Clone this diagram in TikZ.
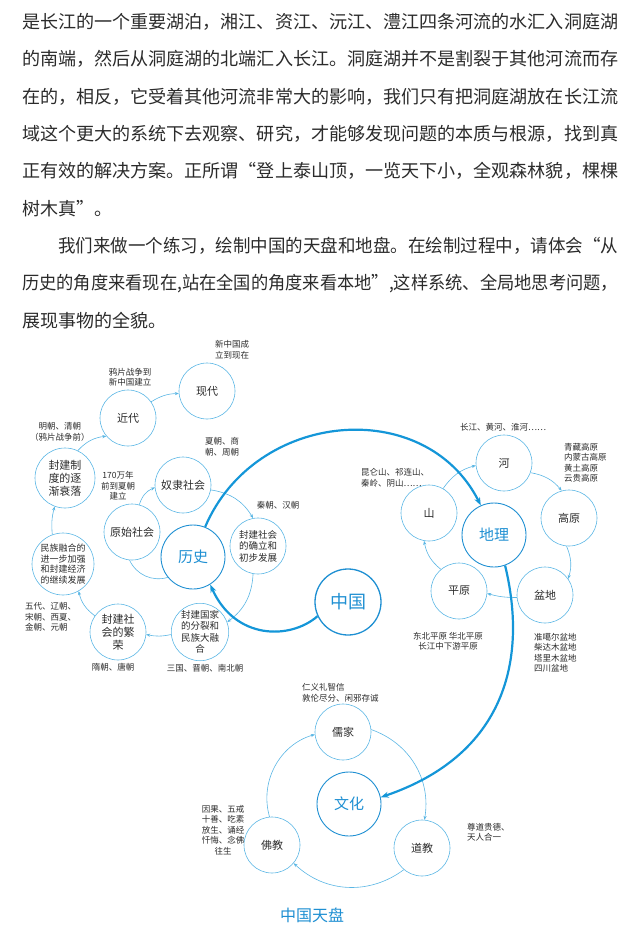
\documentclass[tikz,border=0pt]{standalone}
\usepackage{fontspec}
\setmainfont{Noto Sans CJK SC}
\usepackage{graphicx}
\usepackage{xcolor}
\definecolor{tpRing}{HTML}{5AB6E4}
\definecolor{tpSpiral}{HTML}{1496D8}
\definecolor{tpHub}{HTML}{1E8FD2}
\definecolor{tpText}{HTML}{2B2B2B}
\usepackage{tikz}
\usetikzlibrary{positioning,arrows.meta}

\begin{document}
\begin{tikzpicture}[x=1pt,y=1pt,
      every node/.style={font=\fontsize{11}{13}\selectfont,text=tpText},
      para/.style={anchor=west,inner sep=0pt,font=\fontsize{18}{18}\selectfont},
      stage/.style={circle,draw=tpRing,line width=0.6pt,minimum size=56pt,
                    inner sep=0pt,align=center},
      dense/.style={font=\fontsize{9.5}{11.5}\selectfont},
      hub/.style={circle,draw=tpHub,line width=0.9pt,minimum size=64pt,
                  inner sep=0pt,text=tpHub,font=\fontsize{15}{15}\selectfont},
      note/.style={align=center,inner sep=0pt,font=\fontsize{8.5}{10.5}\selectfont},
      arr/.style={-{Stealth[length=4pt,width=3.2pt]},tpRing,line width=0.6pt},
      spiral/.style={-{Stealth[length=8pt,width=6pt]},tpSpiral,line width=2.2pt},
    ]
    \useasboundingbox (0,0) rectangle (640,-943);

    % Text above the chart
    \node[para] (l1) at (22,-22) {\resizebox{596pt}{\height}{是长江的一个重要湖泊，湘江、资江、沅江、澧江四条河流的水汇入洞庭湖}};
    \node[para] (l2) at (22,-59) {\resizebox{596pt}{\height}{的南端，然后从洞庭湖的北端汇入长江。洞庭湖并不是割裂于其他河流而存}};
    \node[para] (l3) at (22,-97) {\resizebox{596pt}{\height}{在的，相反，它受着其他河流非常大的影响，我们只有把洞庭湖放在长江流}};
    \node[para] (l4) at (22,-134) {\resizebox{596pt}{\height}{域这个更大的系统下去观察、研究，才能够发现问题的本质与根源，找到真}};
    \node[para] (l5) at (22,-171) {\resizebox{596pt}{\height}{正有效的解决方案。正所谓“登上泰山顶，一览天下小，全观森林貌，棵棵}};
    \node[para] (l6) at (22,-209) {树木真”。};
    \node[para] (l7) at (58,-246) {\resizebox{560pt}{\height}{我们来做一个练习，绘制中国的天盘和地盘。在绘制过程中，请体会“从}};
    \node[para] (l8) at (22,-284) {\resizebox{596pt}{\height}{历史的角度来看现在,站在全国的角度来看本地”,这样系统、全局地思考问题，}};
    \node[para] (l9) at (22,-321) {展现事物的全貌。};

    % The four hubs
    \node[hub,minimum size=66pt,line width=1.3pt,font=\fontsize{18}{18}\selectfont] (china) at (348,-602) {中国};
    \node[hub] (hist) at (193,-557) {历史};
    \node[hub] (geo) at (494,-535) {地理};
    \node[hub] (cult) at (349,-804) {文化};

    % History ring
    \node[stage] (primitive) at (132,-532) {原始社会};
    \node[stage] (slave) at (183,-485) {奴隶社会};
    \node[stage,dense] (establish) at (258,-546) {封建社会\\的确立和\\初步发展};
    \node[stage,dense] (split) at (200,-632) {封建国家\\的分裂和\\民族大融\\合};
    \node[stage] (prosper) at (118,-632) {封建社\\会的繁\\荣};
    \node[stage,minimum size=62pt,font=\fontsize{9}{10.5}\selectfont] (fusion) at (63,-564) {民族融合的\\进一步加强\\和封建经济\\的继续发展};
    \node[stage,minimum size=60pt] (decline) at (65,-478) {封建制\\度的逐\\渐衰落};
    \node[stage] (nearmod) at (128,-418) {近代};
    \node[stage] (modern) at (207,-391) {现代};

    \node[note] (nModern) at (232,-350) {新中国成\\立到现在};
    \node[note] (nNear) at (130,-377) {鸦片战争到\\新中国建立};
    \node[note] (nDecline) at (60,-432) {明朝、清朝\\（鸦片战争前）};
    \node[note] (nPrim) at (118,-486) {170万年\\前到夏朝\\建立};
    \node[note] (nSlave) at (222,-447) {夏朝、商\\朝、周朝};
    \node[note] (nEst) at (278,-505) {秦朝、汉朝};
    \node[note,anchor=west,align=left] (nFusion) at (25,-617) {五代、辽朝、\\宋朝、西夏、\\金朝、元朝};
    \node[note] (nProsper) at (113,-667) {隋朝、唐朝};
    \node[note] (nSplit) at (205,-668) {三国、晋朝、南北朝};

    \draw (hist.219) to[bend left=40] (primitive.265) [tpRing,line width=0.6pt];
    \draw[arr] (primitive.75) to[bend left=25] (slave.185);
    \draw[arr] (slave.-10) to[bend left=25] (establish.100);
    \draw[arr] (establish.-100) to[bend left=25] (split.20);
    \draw[arr] (split.185) to[bend left=12] (prosper.-5);
    \draw[arr] (prosper.145) to[bend left=20] (fusion.-60);
    \draw[arr] (fusion.110) to[bend left=10] (decline.-110);
    \draw[arr] (decline.65) to[bend left=20] (nearmod.-140);
    \draw[arr] (nearmod.35) to[bend left=15] (modern.185);

    % Geography ring
    \node[stage] (river) at (504,-463) {河};
    \node[stage] (plateau) at (569,-518) {高原};
    \node[stage] (basin) at (545,-595) {盆地};
    \node[stage] (plain) at (459,-591) {平原};
    \node[stage] (mountain) at (429,-513) {山};

    \node[note] (nRiver) at (503,-427) {长江、黄河、淮河……};
    \node[note,anchor=west,align=left] (nPlateau) at (564,-463) {青藏高原\\内蒙古高原\\黄土高原\\云贵高原};
    \node[note,anchor=west,align=left] (nMount) at (361,-478) {昆仑山、祁连山、\\秦岭、阴山……};
    \node[note] (nPlain) at (448,-641) {东北平原 华北平原\\长江中下游平原};
    \node[note,anchor=west,align=left] (nBasin) at (534,-653) {准噶尔盆地\\柴达木盆地\\塔里木盆地\\四川盆地};

    \draw[arr] (mountain.60) to[bend left=20] (river.185);
    \draw[arr] (river.-20) to[bend left=20] (plateau.105);
    \draw[arr] (plateau.-95) to[bend left=20] (basin.35);
    \draw[arr] (basin.185) to[bend left=8] (plain.-5);
    \draw[arr] (plain.130) to[bend left=20] (mountain.-100);

    % Culture ring
    \node[stage] (ru) at (343,-732) {儒家};
    \node[stage] (dao) at (422,-848) {道教};
    \node[stage] (fo) at (272,-845) {佛教};

    \node[note,anchor=west,align=left] (nRu) at (302,-693) {仁义礼智信\\敦伦尽分、闲邪存诚};
    \node[note,anchor=west,align=left] (nDao) at (467,-832) {尊道贵德、\\天人合一};
    \node[note] (nFo) at (223,-830) {因果、五戒\\十善、吃素\\放生、诵经\\忏悔、念佛\\往生};

    \draw[arr] (ru.5) to[bend left=40] (dao.85);
    \draw[arr] (dao.-130) to[bend left=40] (fo.-40);
    \draw[arr] (fo.95) to[bend left=45] (ru.185);

    % The spiral: China -> history -> geography -> culture
    \draw[spiral] (china.205) .. controls (290,-640) and (235,-640) .. (hist.-58);
    \draw[spiral] (hist.68) .. controls (255,-410) and (425,-395) .. (geo.114);
    \draw[spiral] (geo.-70) .. controls (528,-660) and (505,-755) .. (cult.12);

    \node[text=tpHub,font=\fontsize{16}{16}\selectfont] (title) at (312,-915) {中国天盘};

  \end{tikzpicture}
\end{document}
